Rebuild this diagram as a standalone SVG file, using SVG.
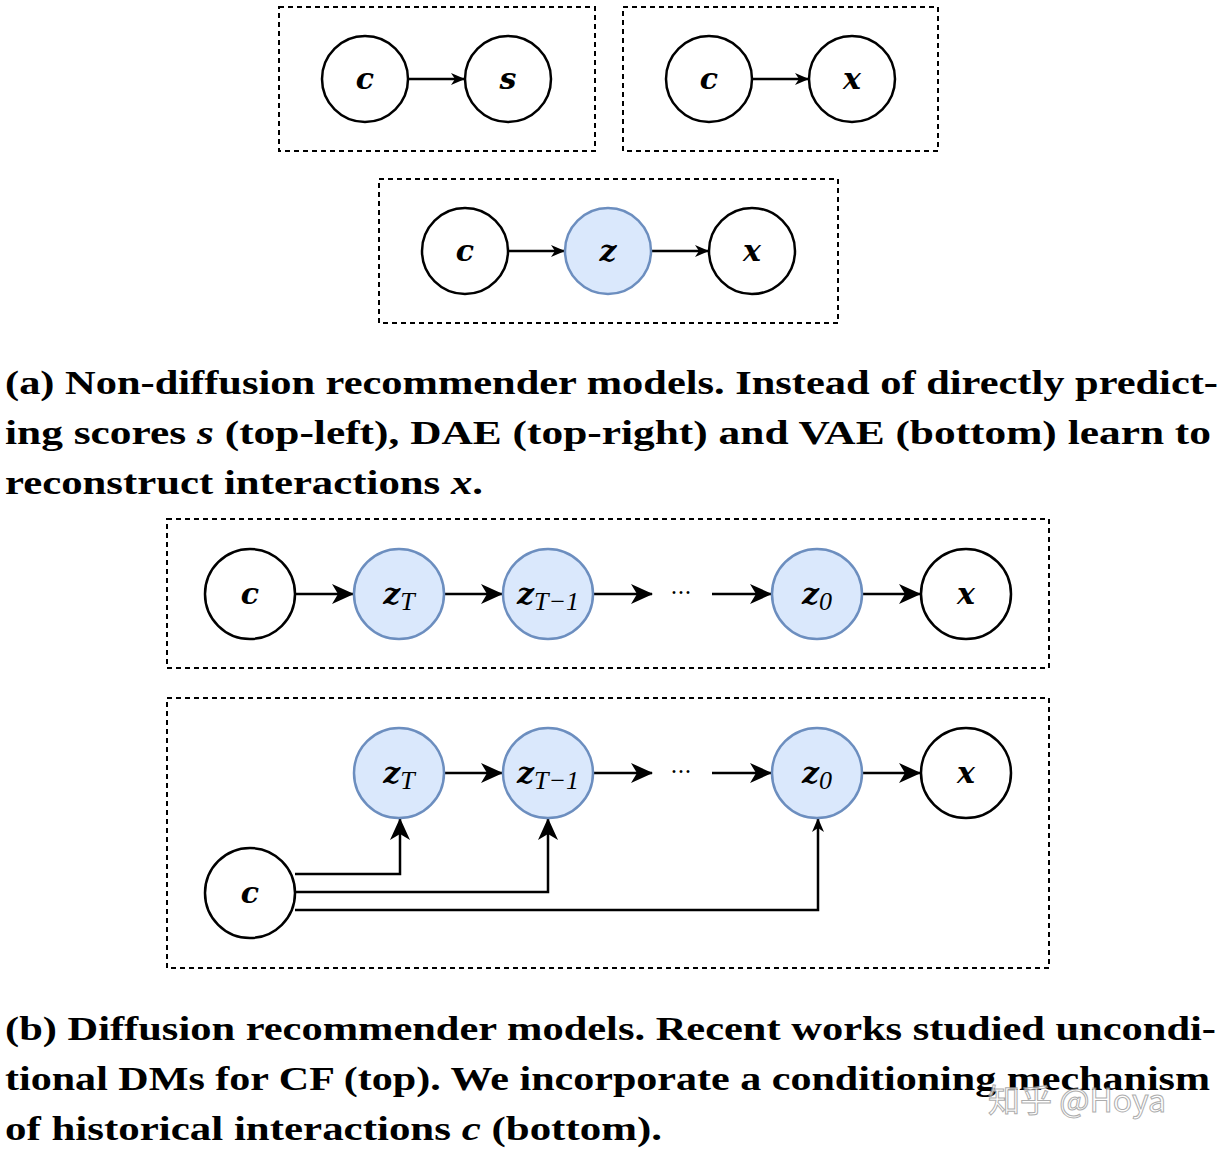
<svg xmlns="http://www.w3.org/2000/svg" width="1224" height="1154" viewBox="0 0 1224 1154">
<style>
.box{fill:none;stroke:#000;stroke-width:2;stroke-dasharray:5 4}
.n{fill:#fff;stroke:#000;stroke-width:2.5}
.b{fill:#dae8fc;stroke:#6c8ebf;stroke-width:2.5}
.l{font-family:"DejaVu Serif","Liberation Serif",serif;font-weight:bold;font-style:italic;font-size:30px;text-anchor:middle}
.sub{font-family:"Liberation Serif",serif;font-style:italic;font-weight:normal;font-size:26px}
.cap{font-family:"Liberation Serif",serif;font-weight:bold;font-size:34px}
.e{fill:none;stroke:#000;stroke-width:2.5}
</style>
<defs><marker id="a" markerWidth="14" markerHeight="12" refX="13" refY="6" orient="auto" markerUnits="userSpaceOnUse" viewBox="0 0 14 12"><path d="M0,0 L14,6 L0,12 L4,6 Z"/></marker>
<marker id="A" markerWidth="22" markerHeight="20" refX="21" refY="10" orient="auto" markerUnits="userSpaceOnUse" viewBox="0 0 22 20"><path d="M0,0 L22,10 L0,20 L6,10 Z"/></marker></defs>
<rect class="box" x="279" y="7" width="316" height="144"/>
<rect class="box" x="623" y="7" width="315" height="144"/>
<rect class="box" x="379" y="179" width="459" height="144"/>
<rect class="box" x="167" y="519" width="882" height="149"/>
<rect class="box" x="167" y="698" width="882" height="270"/>
<g id="connectors">
<line class="e" x1="408" y1="79" x2="464" y2="79" marker-end="url(#a)"/>
<line class="e" x1="752" y1="79" x2="808" y2="79" marker-end="url(#a)"/>
<line class="e" x1="508" y1="251" x2="564" y2="251" marker-end="url(#a)"/>
<line class="e" x1="651" y1="251" x2="708" y2="251" marker-end="url(#a)"/>
<line class="e" x1="295" y1="594" x2="353" y2="594" marker-end="url(#A)"/>
<line class="e" x1="444" y1="594" x2="502" y2="594" marker-end="url(#A)"/>
<line class="e" x1="593" y1="594" x2="652" y2="594" marker-end="url(#A)"/>
<line class="e" x1="712" y1="594" x2="771" y2="594" marker-end="url(#A)"/>
<line class="e" x1="862" y1="594" x2="920" y2="594" marker-end="url(#A)"/>
<line class="e" x1="444" y1="773" x2="502" y2="773" marker-end="url(#A)"/>
<line class="e" x1="593" y1="773" x2="652" y2="773" marker-end="url(#A)"/>
<line class="e" x1="712" y1="773" x2="771" y2="773" marker-end="url(#A)"/>
<line class="e" x1="862" y1="773" x2="920" y2="773" marker-end="url(#A)"/>
<polyline class="e" points="295,874 400,874 400,819" marker-end="url(#A)"/>
<polyline class="e" points="295,892 548,892 548,819" marker-end="url(#A)"/>
<polyline class="e" points="295,910 818,910 818,819" marker-end="url(#a)"/>
</g>
<g id="n1"><circle class="n" cx="365" cy="79" r="43"/><text class="l" x="365" y="89">c</text></g>
<g id="n2"><circle class="n" cx="508" cy="79" r="43"/><text class="l" x="508" y="89">s</text></g>
<g id="n3"><circle class="n" cx="709" cy="79" r="43"/><text class="l" x="709" y="89">c</text></g>
<g id="n4"><circle class="n" cx="852" cy="79" r="43"/><text class="l" x="852" y="89">x</text></g>
<g id="n5"><circle class="n" cx="465" cy="251" r="43"/><text class="l" x="465" y="261">c</text></g>
<g id="n6"><circle class="b" cx="608" cy="251" r="43"/><text class="l" x="608" y="261">z</text></g>
<g id="n7"><circle class="n" cx="752" cy="251" r="43"/><text class="l" x="752" y="261">x</text></g>
<g id="n8"><circle class="n" cx="250" cy="594" r="45"/><text class="l" x="250" y="604">c</text></g>
<g id="n9"><circle class="b" cx="399" cy="594" r="45"/><text class="l" x="399" y="604">z<tspan class="sub" dy="6">T</tspan></text></g>
<g id="n10"><circle class="b" cx="548" cy="594" r="45"/><text class="l" x="548" y="604">z<tspan class="sub" dy="6">T−1</tspan></text></g>
<text x="681" y="600" font-family="DejaVu Serif,serif" font-size="22" text-anchor="middle">···</text>
<g id="n11"><circle class="b" cx="817" cy="594" r="45"/><text class="l" x="817" y="604">z<tspan class="sub" dy="6">0</tspan></text></g>
<g id="n12"><circle class="n" cx="966" cy="594" r="45"/><text class="l" x="966" y="604">x</text></g>
<g id="n13"><circle class="b" cx="399" cy="773" r="45"/><text class="l" x="399" y="783">z<tspan class="sub" dy="6">T</tspan></text></g>
<g id="n14"><circle class="b" cx="548" cy="773" r="45"/><text class="l" x="548" y="783">z<tspan class="sub" dy="6">T−1</tspan></text></g>
<text x="681" y="779" font-family="DejaVu Serif,serif" font-size="22" text-anchor="middle">···</text>
<g id="n15"><circle class="b" cx="817" cy="773" r="45"/><text class="l" x="817" y="783">z<tspan class="sub" dy="6">0</tspan></text></g>
<g id="n16"><circle class="n" cx="966" cy="773" r="45"/><text class="l" x="966" y="783">x</text></g>
<g id="n17"><circle class="n" cx="250" cy="893" r="45"/><text class="l" x="250" y="903">c</text></g>
<text class="cap" x="5" y="394" textLength="1213" lengthAdjust="spacingAndGlyphs">(a) Non-diffusion recommender models. Instead of directly predict-</text>
<text class="cap" x="5" y="444" textLength="1206" lengthAdjust="spacingAndGlyphs">ing scores <tspan font-style="italic">s</tspan> (top-left), DAE (top-right) and VAE (bottom) learn to</text>
<text class="cap" x="5" y="494" textLength="478" lengthAdjust="spacingAndGlyphs">reconstruct interactions <tspan font-style="italic">x</tspan>.</text>
<text class="cap" x="5" y="1040" textLength="1211" lengthAdjust="spacingAndGlyphs">(b) Diffusion recommender models. Recent works studied uncondi-</text>
<text class="cap" x="5" y="1090" textLength="1205" lengthAdjust="spacingAndGlyphs">tional DMs for CF (top). We incorporate a conditioning mechanism</text>
<text class="cap" x="5" y="1140" textLength="657" lengthAdjust="spacingAndGlyphs">of historical interactions <tspan font-style="italic">c</tspan> (bottom).</text>
<text x="988" y="1112" font-family="Noto Sans CJK SC,sans-serif" font-size="32" fill="#fff" stroke="#999" stroke-width="1" opacity="0.8">知乎 @Hoya</text>
</svg>
